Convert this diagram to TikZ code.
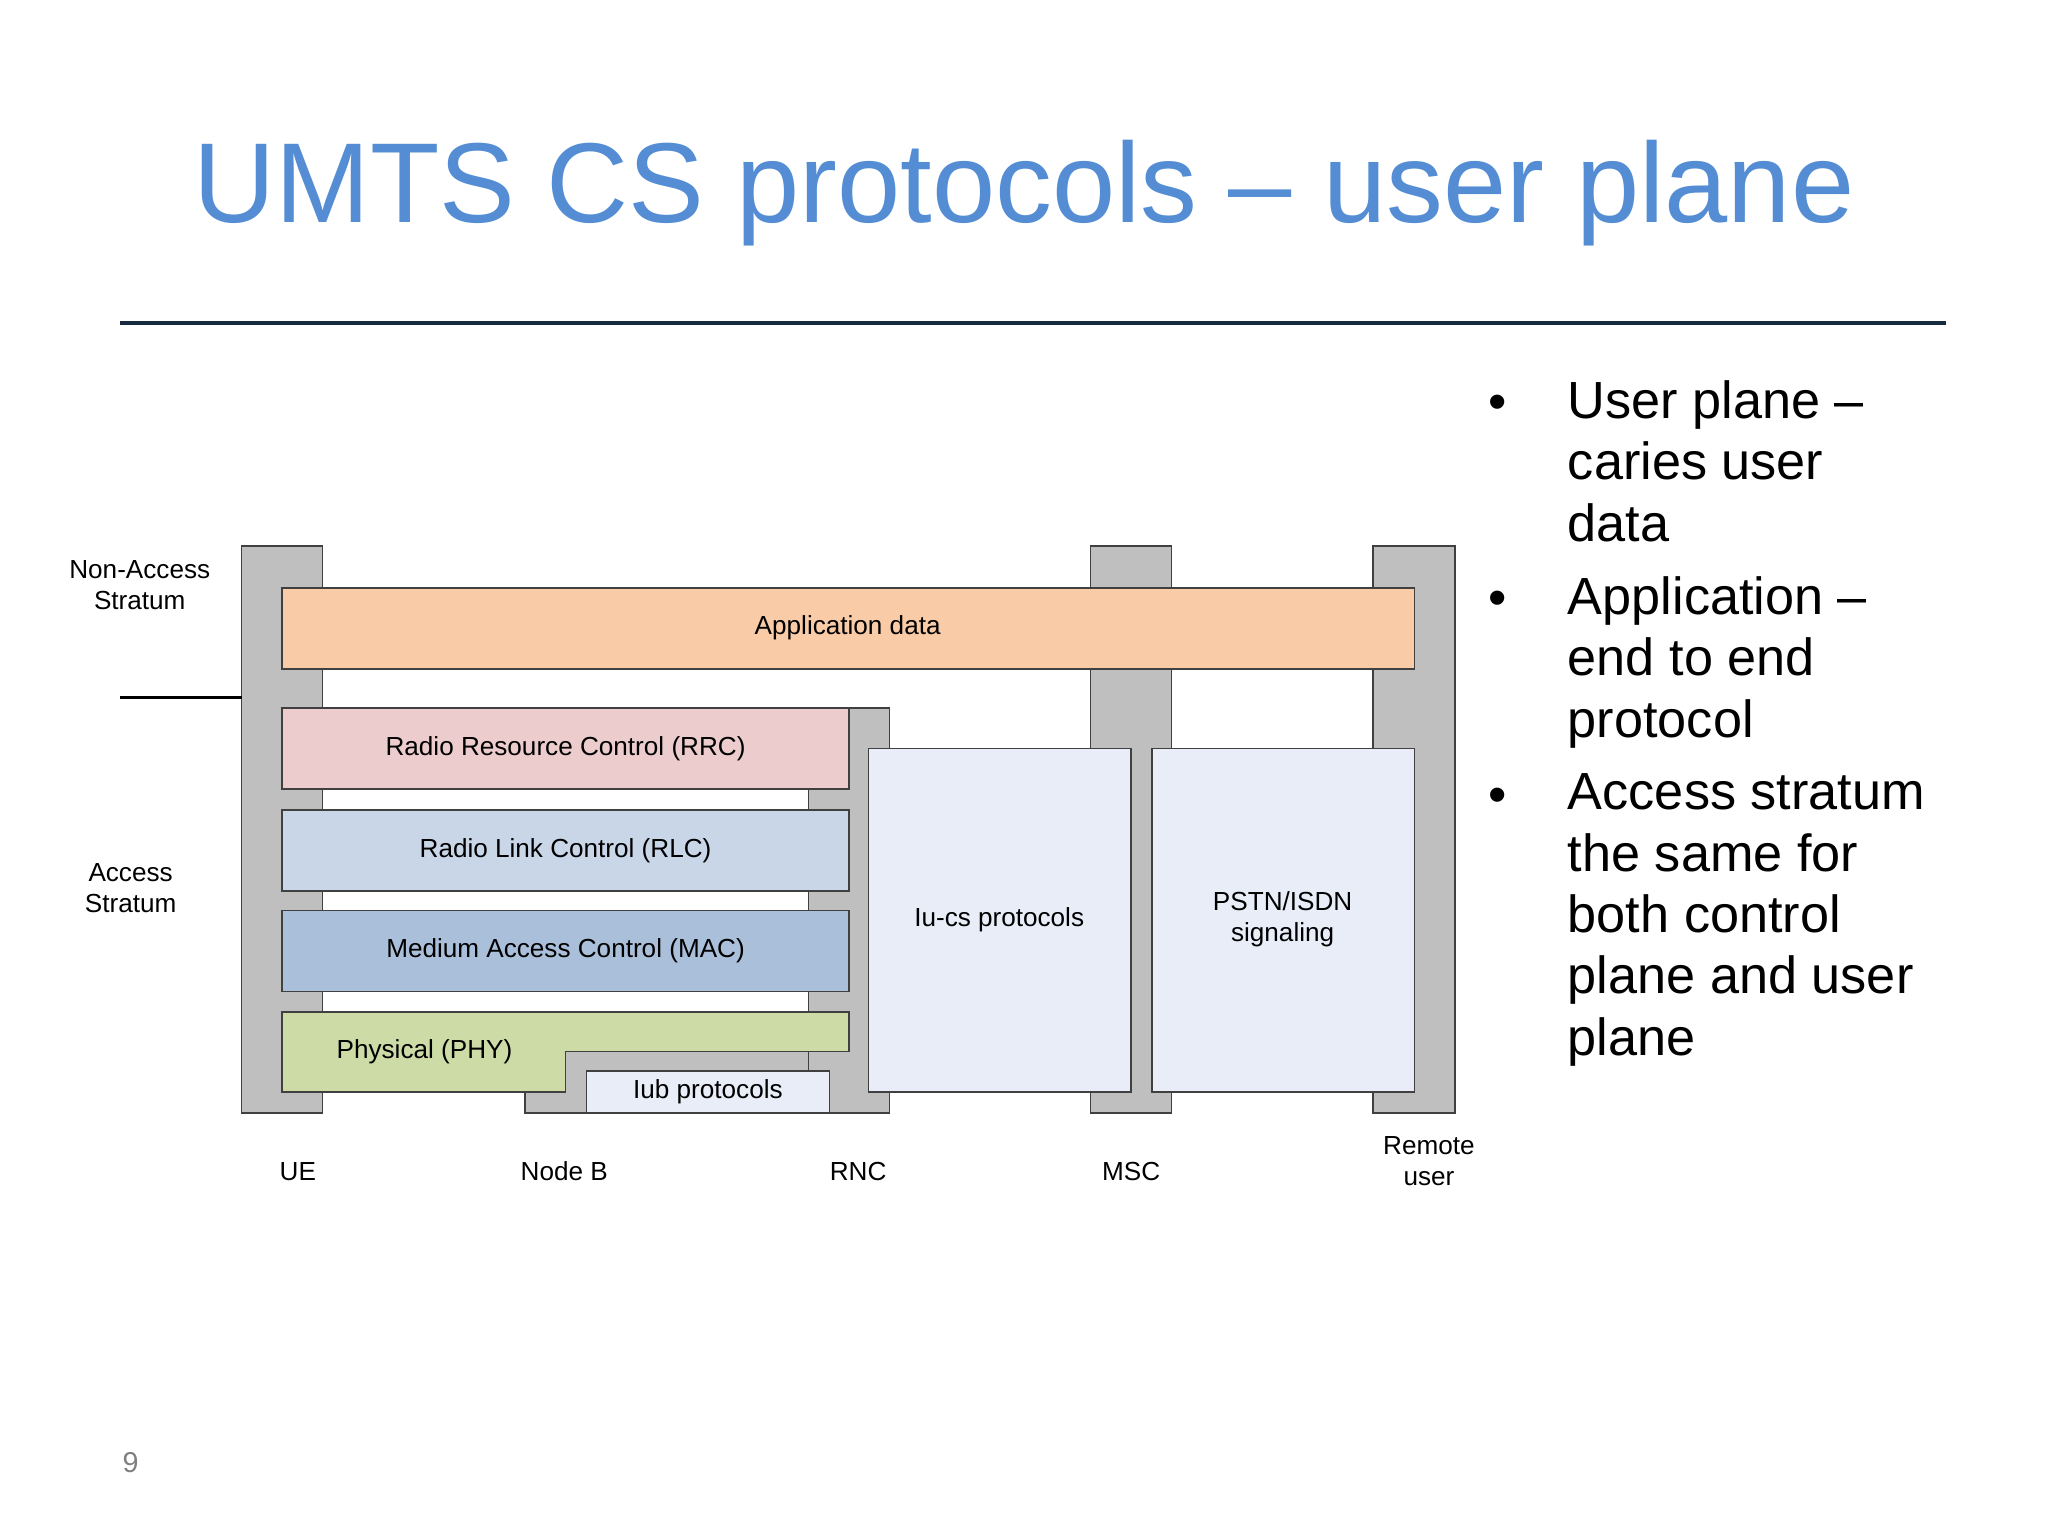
\documentclass[tikz,border=0pt]{standalone}
\usepackage{fontspec}
\setmainfont{Liberation Sans}
\usetikzlibrary{positioning}
\definecolor{titleblue}{RGB}{84,141,212}
\definecolor{pillar}{RGB}{191,191,191}
\definecolor{appc}{RGB}{249,203,167}
\definecolor{rrcc}{RGB}{236,204,204}
\definecolor{rlcc}{RGB}{201,214,232}
\definecolor{macc}{RGB}{170,191,218}
\definecolor{phyc}{RGB}{205,219,167}
\definecolor{protc}{RGB}{232,237,248}
\tikzset{
  layer/.style={draw=black!75, line width=0.6pt},
  lbl/.style={font=\fontsize{10}{12}\selectfont, align=center, inner sep=0pt},
  bullet/.style={font=\fontsize{20}{23.5}\selectfont, align=left, anchor=north west, inner sep=0pt},
  dot/.style={font=\fontsize{20}{23.5}\selectfont, anchor=base, inner sep=0pt}
}
\begin{document}
\begin{tikzpicture}[x=0.5pt,y=-0.5pt]
\useasboundingbox (0,0) rectangle (1568,1176);
%title
\node[titleblue, font=\fontsize{43.5}{46}\selectfont, inner sep=0pt] (title) at (784,148) {UMTS CS protocols -- user plane};
\draw[color={rgb,255:red,23;green,43;blue,64}, line width=1.6pt] (92,247) -- (1490,247);

%pillars
\draw[layer, fill=pillar] (185,418) rectangle (247,852);
\draw[layer, fill=pillar] (402,790) rectangle (650,852);
\draw[layer, fill=pillar] (619,542) rectangle (681,852);
\draw[layer, fill=pillar] (835,418) rectangle (897,852);
\draw[layer, fill=pillar] (1051,418) rectangle (1114,852);

%layers
\draw[layer, fill=appc] (216,450) rectangle (1083,512);
\node[lbl] (app) at (649,481) {Application data};
\draw[layer, fill=rrcc] (216,542) rectangle (650,604);
\node[lbl] (rrc) at (433,573) {Radio Resource Control (RRC)};
\draw[layer, fill=rlcc] (216,620) rectangle (650,682);
\node[lbl] (rlc) at (433,651) {Radio Link Control (RLC)};
\draw[layer, fill=macc] (216,697) rectangle (650,759);
\node[lbl] (mac) at (433,728) {Medium Access Control (MAC)};
\draw[layer, fill=phyc] (216,775) -- (650,775) -- (650,805) -- (433,805) -- (433,836) -- (216,836) -- cycle;
\node[lbl] (phy) at (325,805) {Physical (PHY)};
\draw[layer, fill=protc] (449,820) rectangle (635,852);
\node[lbl] (iub) at (542,836) {Iub protocols};
\draw[layer, fill=protc] (665,573) rectangle (866,836);
\node[lbl] (iucs) at (765,704) {Iu-cs protocols};
\draw[layer, fill=protc] (882,573) rectangle (1083,836);
\node[lbl] (pstn) at (982,704) {PSTN/ISDN\\signaling};

%stratum labels
\node[lbl] (nas) at (107,448) {Non-Access\\Stratum};
\node[lbl] (as) at (100,680) {Access\\Stratum};
\coordinate (sep) at (185,534);
\draw[line width=1.3pt] (92,534) -- (sep);

%node labels
\node[lbl] (ue) at (228,897) {UE};
\node[lbl] (nodeb) at (432,897) {Node B};
\node[lbl] (rnc) at (657,897) {RNC};
\node[lbl] (msc) at (866,897) {MSC};
\node[lbl] (remote) at (1094,889) {Remote\\user};

%bullets
\node[bullet] (b1) at (1200,291) {User plane --\\caries user\\data};
\node[bullet] (b2) at (1200,441) {Application --\\end to end\\protocol};
\node[bullet] (b3) at (1200,592) {Access stratum\\the same for\\both control\\plane and user\\plane};
\node[dot] (d1) at (1147,321) {•};
\node[dot] (d2) at (1147,471) {•};
\node[dot] (d3) at (1147,622) {•};

\node[gray, font=\fontsize{11}{13}\selectfont] (page) at (100,1120) {9};
\end{tikzpicture}
\end{document}
